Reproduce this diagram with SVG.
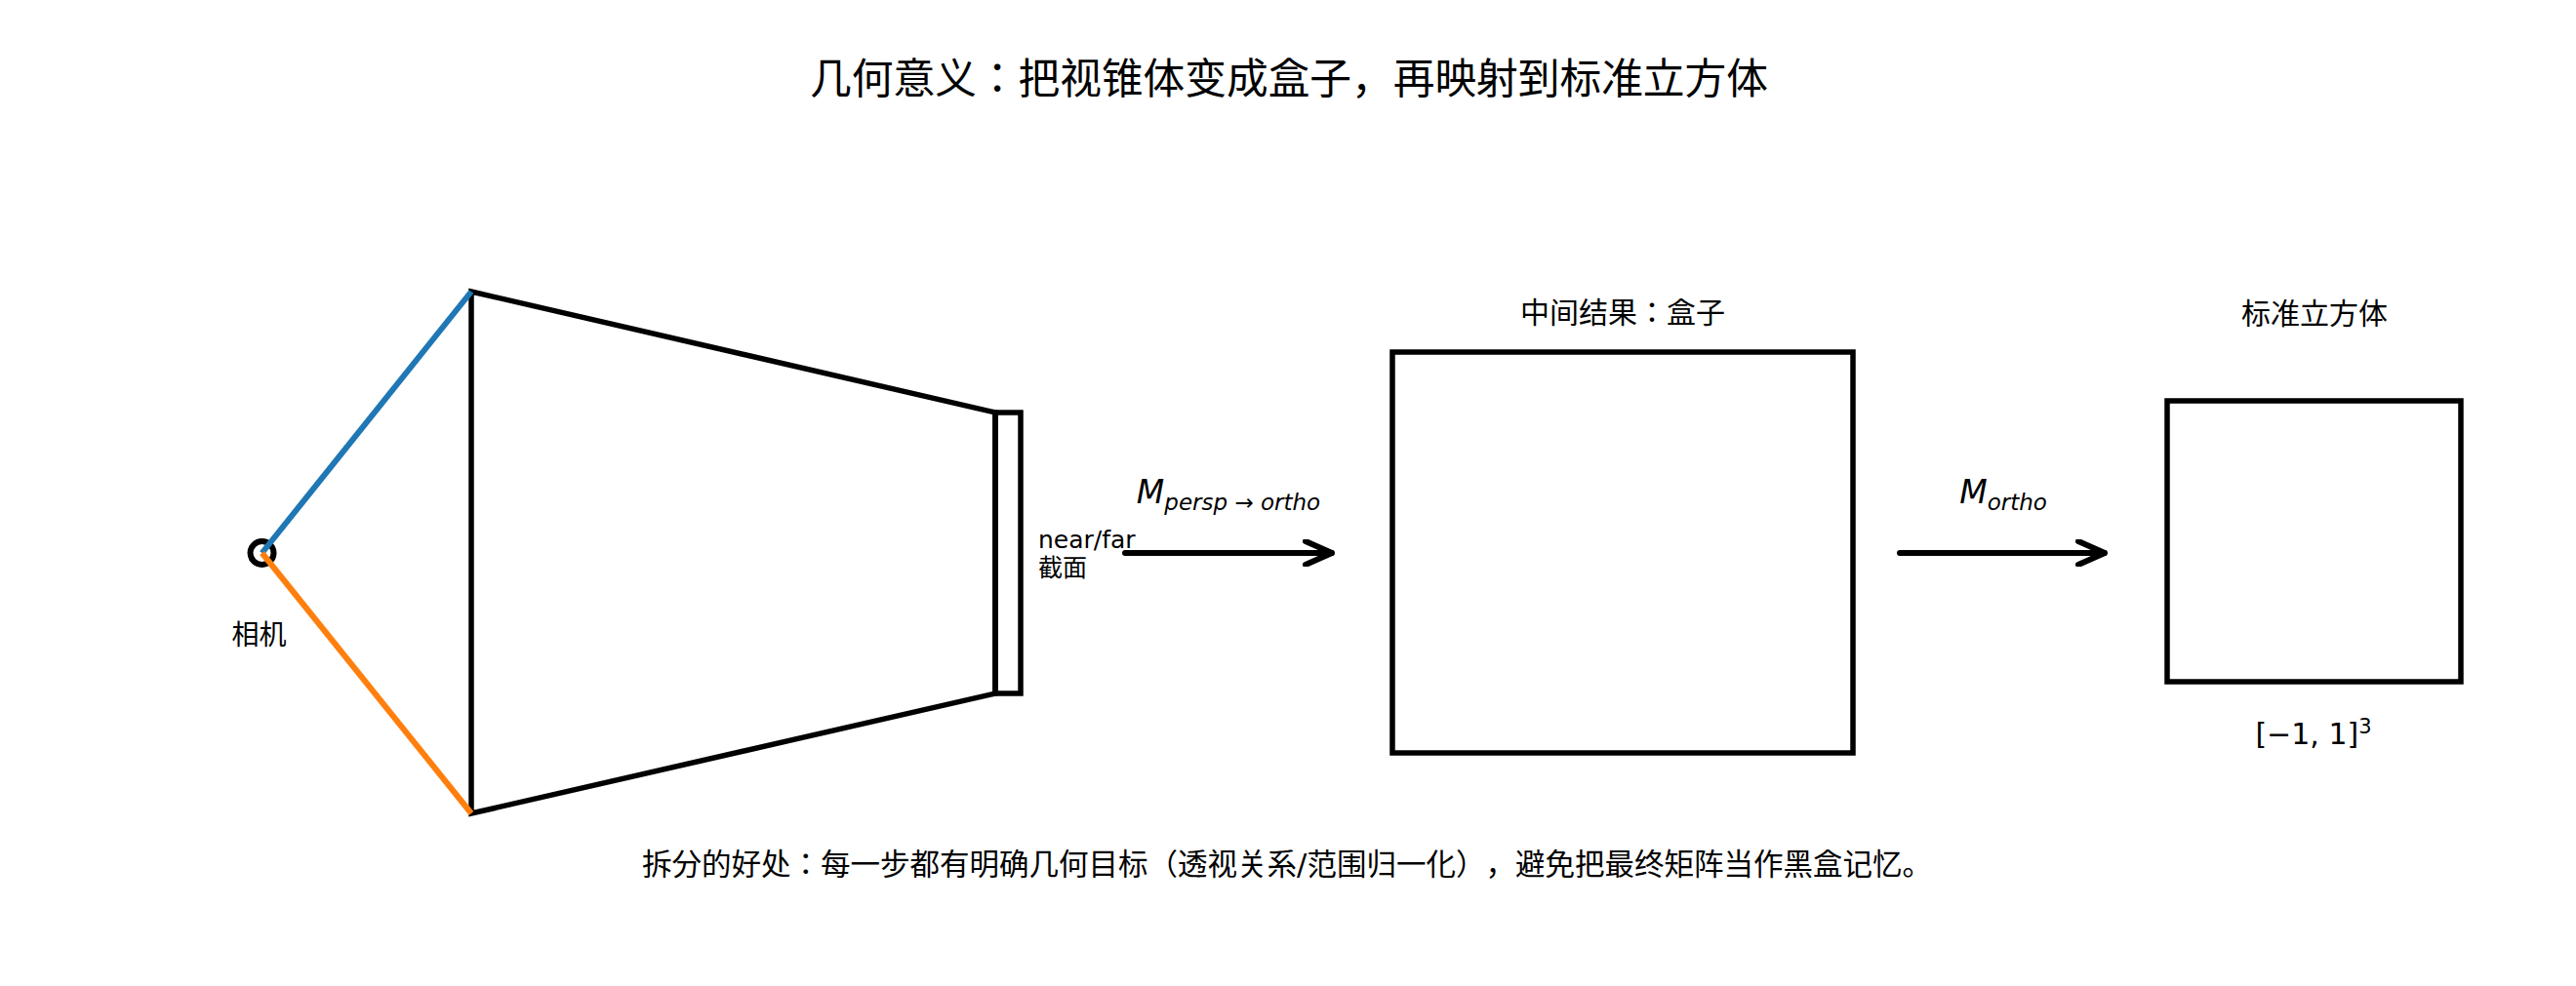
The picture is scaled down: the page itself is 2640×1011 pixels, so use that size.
<svg xmlns="http://www.w3.org/2000/svg" width="2640" height="1011" viewBox="0 0 2640 1011">
  <style>
    text { text-spacing-trim: space-all; }
    .cjk { font-family: "DejaVu Sans", "Noto Sans CJK JP", sans-serif; fill: #000; }
    .math { font-family: "DejaVu Sans", sans-serif; fill: #000; }
    .shape { fill: none; stroke: #000; stroke-width: 5.5; stroke-linejoin: miter; }
    .conn { fill: none; stroke: #000; stroke-width: 6; stroke-linecap: round; stroke-linejoin: round; }
  </style>
  <defs>
    <marker id="chev" viewBox="-30 -14 32 28" markerUnits="userSpaceOnUse" markerWidth="32" markerHeight="28" refX="0" refY="0" orient="auto">
      <path d="M-27,-12 L0,0 L-27,12" fill="none" stroke="#000" stroke-width="6" stroke-linecap="round" stroke-linejoin="round"/>
    </marker>
  </defs>
  <rect width="2640" height="1011" fill="#fff"/>

  <g id="title">
    <text class="cjk" x="1321" y="96" font-size="42.7" text-anchor="middle">几何意义：把视锥体变成盒子，再映射到标准立方体</text>
  </g>

  <g id="frustum">
    <polygon class="shape" points="483,299 1020,423 1020,711 483,834"/>
  </g>
  <g id="near-far-slab">
    <rect class="shape" x="1020" y="423" width="26" height="288"/>
    <text class="cjk" x="1064" y="562" font-size="25">near/far</text>
    <text class="cjk" x="1064" y="591" font-size="25">截面</text>
  </g>

  <g id="camera">
    <circle cx="268.5" cy="567" r="12" fill="none" stroke="#000" stroke-width="6"/>
    <line x1="268.5" y1="567" x2="483" y2="299" stroke="#1f77b4" stroke-width="6"/>
    <line x1="268.5" y1="567" x2="483" y2="834" stroke="#ff7f0e" stroke-width="6"/>
    <text class="cjk" x="265.5" y="661" font-size="28" text-anchor="middle">相机</text>
  </g>

  <g id="box">
    <rect class="shape" x="1427" y="361" width="472" height="411"/>
    <text class="cjk" x="1663" y="331" font-size="30" text-anchor="middle">中间结果：盒子</text>
  </g>

  <g id="cube">
    <rect class="shape" x="2221" y="411" width="301" height="288"/>
    <text class="cjk" x="2372" y="332" font-size="30" text-anchor="middle">标准立方体</text>
    <text class="math" x="2371" y="763" font-size="30" text-anchor="middle">[−1, 1]<tspan font-size="21" dy="-11">3</tspan></text>
  </g>

  <g id="connectors">
    <g id="arrow-persp-ortho">
      <line class="conn" x1="1153" y1="567" x2="1365" y2="567" marker-end="url(#chev)"/>
      <text class="math" x="1259" y="516" font-size="33" text-anchor="middle"><tspan font-style="italic">M</tspan><tspan font-size="23" dy="7" font-style="italic">persp</tspan><tspan font-size="23"> → </tspan><tspan font-size="23" font-style="italic">ortho</tspan></text>
    </g>
    <g id="arrow-ortho">
      <line class="conn" x1="1947" y1="567" x2="2157" y2="567" marker-end="url(#chev)"/>
      <text class="math" x="2053" y="516" font-size="33" text-anchor="middle"><tspan font-style="italic">M</tspan><tspan font-size="23" dy="7" font-style="italic">ortho</tspan></text>
    </g>
  </g>

  <g id="footer">
    <text class="cjk" x="1319" y="897" font-size="30.5" text-anchor="middle">拆分的好处：每一步都有明确几何目标（透视关系/范围归一化），避免把最终矩阵当作黑盒记忆。</text>
  </g>
</svg>
